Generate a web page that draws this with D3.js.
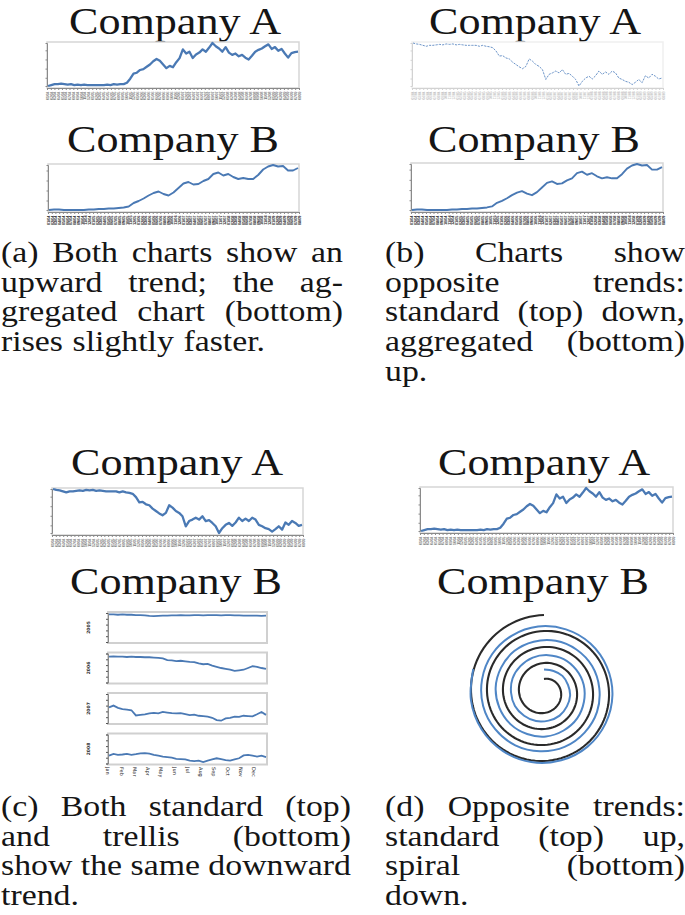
<!DOCTYPE html>
<html>
<head>
<meta charset="utf-8">
<script src="https://cdn.jsdelivr.net/npm/d3@7/dist/d3.min.js"></script>
<style>
  body { margin: 0; background: #fff; }
  svg { display: block; }
</style>
</head>
<body>
<svg id="fig" width="685" height="915"></svg>
<script>
// ---- data ----
var companies = ["Company A", "Company B"];
var axisDates = ["2004-01-01", "2009-08-01"];

// daily prices, company that goes up (a top, d top)
var upDaily = [2,4,6,6,7,6,5,6,4,5,4,5,4,4,4,4,4,4,5,4,6,5,6,6,9,18,29,31,37,39,44,49,56,61,57,49,41,46,43,54,
  63,82,73,77,63,71,75,82,77,86,96,89,84,77,87,75,70,73,67,70,64,60,68,77,81,84,89,93,83,87,79,83,73,64,74,76,77];

// monthly aggregate of the same company (a bottom, b bottom)
var upMonthly = [1,2,2,1,1,1,1,1,2,2,3,3,4,4,5,6,8,15,19,24,30,35,38,33,30,36,45,54,57,52,53,59,63,73,76,70,
  73,67,63,65,63,63,71,82,88,91,88,89,80,80,85];

// daily prices, company that goes down (b top, c top)
var downDaily = [96,94,93,91,89,91,91,92,93,92,94,93,94,92,93,92,91,91,91,91,89,91,89,88,86,79,68,69,64,62,55,50,
  45,41,46,62,57,50,46,39,18,29,32,36,32,39,29,31,25,18,4,14,21,25,19,26,36,29,34,29,36,32,21,18,14,12,7,12,18,11,
  26,21,29,25,19,21];

// trellis, one row per year, three readings a month
var trellisYears = ["2005", "2006", "2007", "2008"];
var trellis2005 = [0.95,0.95,0.94,0.95,0.94,0.94,0.93,0.93,0.92,0.90,0.89,0.90,0.91,0.91,0.92,0.92,0.93,0.92,
  0.92,0.93,0.93,0.92,0.93,0.93,0.93,0.92,0.93,0.93,0.92,0.92,0.91,0.91,0.91,0.91,0.90,0.91];
var trellis2006 = [0.89,0.90,0.89,0.89,0.88,0.89,0.88,0.88,0.87,0.87,0.86,0.85,0.83,0.77,0.76,0.74,0.75,0.73,
  0.71,0.70,0.66,0.63,0.64,0.58,0.54,0.50,0.47,0.44,0.40,0.42,0.44,0.50,0.56,0.54,0.50,0.47];
var trellis2007 = [0.54,0.60,0.52,0.48,0.46,0.44,0.26,0.28,0.30,0.33,0.35,0.33,0.38,0.36,0.34,0.33,0.34,0.31,
  0.27,0.29,0.25,0.24,0.22,0.18,0.10,0.08,0.16,0.18,0.22,0.21,0.25,0.24,0.23,0.30,0.38,0.28];
var trellis2008 = [0.27,0.33,0.30,0.31,0.33,0.30,0.32,0.35,0.36,0.34,0.30,0.27,0.24,0.22,0.20,0.16,0.15,0.14,
  0.10,0.08,0.10,0.05,0.10,0.14,0.18,0.15,0.12,0.10,0.14,0.18,0.28,0.30,0.27,0.24,0.27,0.22];
var monthLabels = ["Jan","Feb","Mar","Apr","May","Jun","Jul","Aug","Sep","Oct","Nov","Dec"];

// spiral values (start in the centre, going outwards)
var spiralValues = [0.95,0.9,0.93,0.88,0.9,0.86,0.88,0.84,0.85,0.82,0.84,0.8,0.82,0.79,0.8,0.78,
  0.8,0.77,0.78,0.75,0.77,0.74,0.76,0.73,0.74,0.72,0.73,0.7,0.72,0.69,0.7,0.68,
  0.69,0.66,0.67,0.64,0.65,0.62,0.63,0.6,0.6,0.57,0.56,0.52,0.5,0.45,0.42,0.37,
  0.34,0.29,0.26,0.21,0.18,0.14,0.11,0.08,0.06];

var captionA = ["(a) Both charts show an", "upward trend; the ag-", "gregated chart (bottom)", "rises slightly faster."];
var captionB = ["(b) Charts show", "opposite trends:", "standard (top) down,", "aggregated (bottom)", "up."];
var captionC = ["(c) Both standard (top)", "and trellis (bottom)", "show the same downward", "trend."];
var captionD = ["(d) Opposite trends:", "standard (top) up,", "spiral (bottom)", "down."];

// ---- drawing ----
var svg = d3.select("#fig");
var blue = "#4a79b4";
var serif = "'Liberation Serif', 'Times New Roman', Tinos, 'DejaVu Serif', serif";
var parseDay = d3.timeParse("%Y-%m-%d");

var styleStd = {frame: "#d6d6d6", axis: "#8a8a8a", label: "#3a3a3a", line: blue, width: 2.3, dash: null, size: 3.4, weight: "normal"};
var styleFaint = {frame: "#efefef", axis: "#d2d2d2", label: "#b0b0b0", line: "#5b88c2", width: 0.9, dash: "2.2,1.1", size: 3.2, weight: "normal"};
var styleAgg = {frame: "#d6d6d6", axis: "#8a8a8a", label: "#222", line: blue, width: 1.9, dash: null, size: 3.8, weight: "bold"};

function standardChart(box, values, st)
{
    var g = svg.append("g");
    var x = d3.scaleLinear().domain([0, values.length - 1]).range([box[0] + 1, box[2] - 1]);
    var y = d3.scaleLinear().domain(d3.extent(values)).range([box[3] - 2, box[1] + 1]);
    var t = d3.scaleTime().domain(axisDates.map(parseDay)).range([box[0], box[2]]);

    g.append("rect")
        .attr("x", box[0]).attr("y", box[1])
        .attr("width", box[2] - box[0]).attr("height", box[3] - box[1])
        .attr("fill", "none").attr("stroke", st.frame).attr("stroke-width", 1.5);

    g.append("g")
        .attr("transform", "translate(0," + box[3] + ")")
        .call(d3.axisBottom(t).ticks(d3.timeMonth.every(1)).tickSize(2).tickFormat(d3.timeFormat("%m/%y")))
        .call(function(a) {
            a.select(".domain").attr("stroke", st.axis);
            a.selectAll(".tick line").attr("stroke", st.axis);
            a.selectAll(".tick text")
                .attr("y", 0).attr("x", -3.5).attr("dy", "0.35em")
                .attr("transform", "rotate(-90)")
                .style("text-anchor", "end")
                .attr("font-size", st.size)
                .attr("font-weight", st.weight)
                .attr("fill", st.label);
        });

    g.append("g")
        .attr("transform", "translate(" + box[0] + ",0)")
        .call(d3.axisLeft(y).ticks(4).tickSize(1.5).tickFormat(""))
        .call(function(a) {
            a.select(".domain").attr("stroke", st.axis);
            a.selectAll(".tick line").attr("stroke", st.axis);
        });

    g.append("path")
        .datum(values)
        .attr("fill", "none")
        .attr("stroke", st.line)
        .attr("stroke-width", st.width)
        .attr("stroke-linejoin", "round")
        .attr("stroke-dasharray", st.dash)
        .attr("d", d3.line().x(function(d, i) { return x(i); }).y(function(d) { return y(d); }));
}

function trellisChart(left, right, tops, h, series)
{
    var x = d3.scaleLinear().domain([0, series[0].length - 1]).range([left + 1, right - 1]);
    var m = d3.scalePoint().domain(monthLabels).range([left, left + 11 * 13.25]);
    series.forEach(function(vals, k) {
        var top = tops[k];
        var y = d3.scaleLinear().domain([0, 1]).range([top + h - 1, top + 1]);
        var g = svg.append("g");
        g.append("rect")
            .attr("x", left).attr("y", top).attr("width", right - left).attr("height", h)
            .attr("fill", "#fff").attr("stroke", "#d0d0d0").attr("stroke-width", 2);
        g.append("g")
            .attr("transform", "translate(" + left + ",0)")
            .call(d3.axisLeft(y).ticks(5).tickSize(2).tickFormat(""))
            .call(function(a) {
                a.select(".domain").attr("stroke", "#8a8a8a");
                a.selectAll(".tick line").attr("stroke", "#555");
            });
        g.append("text")
            .attr("transform", "translate(88," + (top + h / 2) + ") rotate(-90)")
            .attr("text-anchor", "middle").attr("dy", "0.35em")
            .attr("font-family", "DejaVu Sans").attr("font-size", 4.5).attr("font-weight", "bold")
            .attr("fill", "#333")
            .text(trellisYears[k]);
        g.append("path")
            .datum(vals)
            .attr("fill", "none").attr("stroke", blue).attr("stroke-width", 1.8)
            .attr("d", d3.line().x(function(d, i) { return x(i); }).y(function(d) { return y(d); }));
    });
    var bottom = tops[tops.length - 1] + h;
    svg.append("g").selectAll("text")
        .data(monthLabels)
        .enter().append("text")
        .attr("transform", function(d) { return "translate(" + m(d) + "," + (bottom + 2.5) + ") rotate(90)"; })
        .attr("dy", "0.35em")
        .attr("font-family", "DejaVu Sans").attr("font-size", 5)
        .attr("fill", "#222")
        .text(function(d) { return d; });
}

function spiralChart(cx, cy, values)
{
    var turns = 4;
    var r = d3.scaleLinear().domain([0, turns]).range([13, 13 + 16 * turns]);
    var off = d3.scaleLinear().domain([0, 1]).range([0, 10]);
    var tIdx = d3.scaleLinear().domain([0, values.length - 1]).range([0, 3.8]);
    var g = svg.append("g").attr("transform", "translate(" + cx + "," + cy + ")");

    // the time axis itself, a plain spiral
    g.append("path")
        .datum(d3.range(0, turns + 0.0001, 0.01))
        .attr("fill", "none").attr("stroke", "#2a2a2a").attr("stroke-width", 2.1)
        .attr("d", d3.lineRadial()
            .angle(function(t) { return t * 2 * Math.PI; })
            .radius(function(t) { return r(t); }));

    g.append("path")
        .datum(values)
        .attr("fill", "none").attr("stroke", "#4f86c6").attr("stroke-width", 2)
        .attr("d", d3.lineRadial()
            .curve(d3.curveCatmullRom)
            .angle(function(d, i) { return tIdx(i) * 2 * Math.PI; })
            .radius(function(d, i) { return r(tIdx(i)) + off(d); }));
}

// titles: stretched so that "Company A" is about 212px wide, like the LaTeX font
var titleSize = 38, titleWidth = 212, titleScale = 1;
(function() {
    var probe = svg.append("text").attr("font-family", serif).attr("font-size", titleSize).text(companies[0]);
    titleScale = titleWidth / probe.node().getComputedTextLength();
    probe.remove();
})();

function title(text, cx, y)
{
    var t = svg.append("text").attr("font-family", serif).attr("fill", "#151515")
        .attr("y", y).attr("font-size", titleSize).text(text);
    var w = t.node().getComputedTextLength() * titleScale;
    t.attr("textLength", w).attr("lengthAdjust", "spacingAndGlyphs").attr("x", cx - w / 2);
}

var capSize = 29, capStretch = 1.165, capStep = 29.7;
function caption(lines, x0, x1, y0)
{
    lines.forEach(function(line, i) {
        var y = y0 + i * capStep;
        var words = line.split(" ").map(function(w) {
            var t = svg.append("text").attr("font-family", serif).attr("fill", "#151515")
                .attr("y", y).attr("font-size", capSize).text(w);
            var wd = t.node().getComputedTextLength() * capStretch;
            t.attr("textLength", wd).attr("lengthAdjust", "spacingAndGlyphs");
            return {t: t, w: wd};
        });
        var total = d3.sum(words, function(d) { return d.w; });
        var last = (i === lines.length - 1) || words.length < 2;
        var gap = last ? capSize * 0.33 : (x1 - x0 - total) / (words.length - 1);
        var x = x0;
        words.forEach(function(d) { d.t.attr("x", x); x += d.w + gap; });
    });
}

// panel (a)
title(companies[0], 175, 34);
standardChart([47, 42, 299, 88], upDaily, styleStd);
title(companies[1], 173, 152);
standardChart([48, 164, 299, 212], upMonthly, styleAgg);
caption(captionA, 1, 343, 262);

// panel (b)
title(companies[0], 535, 34);
standardChart([412, 42, 663, 88], downDaily, styleFaint);
title(companies[1], 534, 152);
standardChart([411, 163, 663, 212], upMonthly, styleAgg);
caption(captionB, 385, 685, 262);

// panel (c)
title(companies[0], 177, 475);
standardChart([52, 488, 303, 535], downDaily, styleStd);
title(companies[1], 176, 594);
trellisChart(108, 267, [612, 652.5, 693, 733.5], 31, [trellis2005, trellis2006, trellis2007, trellis2008]);
caption(captionC, 1, 351, 816);

// panel (d)
title(companies[0], 544, 475);
standardChart([420, 487, 673, 533], upDaily, styleStd);
title(companies[1], 543, 594);
spiralChart(544, 692, spiralValues);
caption(captionD, 385, 685, 816);
</script>
</body>
</html>
